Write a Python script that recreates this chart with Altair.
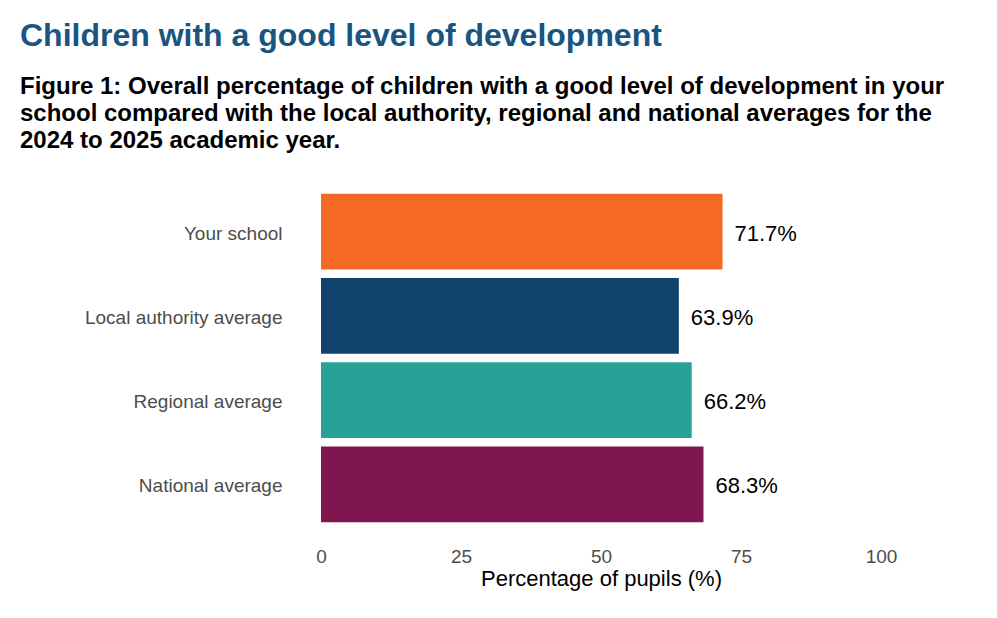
import altair as alt
import pandas as pd

# Overall percentage of children with a good level of development
groups = ["Your school", "Local authority average", "Regional average", "National average"]
values = [71.7, 63.9, 66.2, 68.3]
colors = ["#F46A25", "#12436D", "#28A197", "#801650"]

df = pd.DataFrame({"group": groups, "value": values})
df["label"] = df["value"].map(lambda v: f"{v:.1f}%")

FONT = "Liberation Sans"

y_enc = alt.Y(
    "group:N",
    sort=groups,
    scale=alt.Scale(paddingInner=0.1, paddingOuter=0.15),
    axis=alt.Axis(
        title=None, ticks=False, domain=False, labelPadding=39, labelLimit=400,
        labelOffset=2, labelFontSize=19, labelColor="#4D4D4D", labelFont=FONT,
    ),
)
x_enc = alt.X(
    "value:Q",
    scale=alt.Scale(domain=[0, 100], nice=False),
    axis=alt.Axis(
        values=[0, 25, 50, 75, 100], grid=False, ticks=False, domain=False,
        labelFlush=False, labelPadding=12, labelFontSize=19, labelColor="#4D4D4D",
        labelFont=FONT,
        title="Percentage of pupils (%)", titleFontSize=22, titleFontWeight="normal",
        titleColor="#000000", titleFont=FONT, titlePadding=2,
    ),
)

bars = alt.Chart(df).mark_bar().encode(
    x=x_enc,
    y=y_enc,
    color=alt.Color("group:N", scale=alt.Scale(domain=groups, range=colors), legend=None),
)

labels = alt.Chart(df).mark_text(
    align="left", baseline="middle", dx=12, dy=2, fontSize=22, font=FONT, color="#000000"
).encode(
    x="value:Q",
    y=alt.Y("group:N", sort=groups),
    text="label:N",
)

chart = (
    alt.layer(bars, labels)
    .properties(
        width=560,
        height=354,
        background="white",
        autosize=alt.AutoSizeParams(type="none"),
        padding={"left": 321, "top": 181, "right": 116, "bottom": 83},
        title=alt.TitleParams(
            text="Children with a good level of development",
            subtitle=[
                "Figure 1: Overall percentage of children with a good level of development in your",
                "school compared with the local authority, regional and national averages for the",
                "2024 to 2025 academic year.",
            ],
            anchor="start",
            frame="group",
            dx=-301,
            offset=27,
            font=FONT,
            fontSize=32,
            fontWeight="bold",
            color="#1A5480",
            subtitleFont=FONT,
            subtitleFontSize=24,
            subtitleFontWeight="bold",
            subtitleColor="#000000",
            subtitleLineHeight=27,
            subtitlePadding=22,
        ),
    )
    .configure_view(strokeWidth=0)
)

chart.save("out.html", embed_options={"renderer": "svg", "actions": False})
